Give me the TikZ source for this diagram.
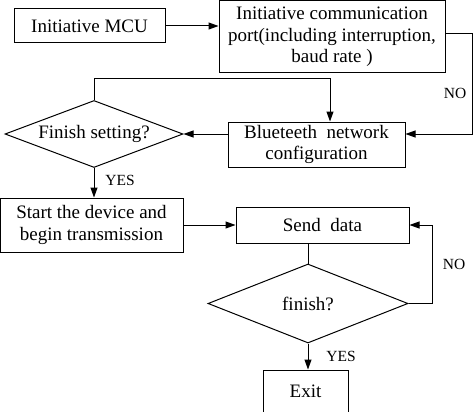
\documentclass[tikz,border=0pt]{standalone}
\usepackage{fontspec}
\setmainfont{Liberation Serif}
\usetikzlibrary{positioning,arrows.meta,shapes.geometric}

\begin{document}
\begin{tikzpicture}[x=1pt, y=-1pt, line width=1pt,
    font=\fontsize{19}{21.5}\selectfont,
    caja/.style={draw, rectangle, align=center, inner sep=0pt},
    rombo/.style={draw, diamond, aspect=2.6, inner sep=0pt, align=center},
    flecha/.style={-{Triangle[length=10pt, width=7pt]}},
    etiq/.style={font=\fontsize{15.5}{17}\selectfont}]
  \useasboundingbox (0,0) rectangle (474,412);
  % arriba: MCU y puerto
  \node[caja, minimum width=151pt, minimum height=34pt] (mcu) at (89.5,26) {Initiative MCU};
  \node[caja, minimum width=226pt, minimum height=72pt] (port) at (332,37)
    {Initiative communication\\port(including interruption,\\baud rate )};
  % configuracion bluetooth
  \node[caja, minimum width=177pt, minimum height=45pt] (bt) at (316.5,144.5)
    {Blueteeth\ \ network\\configuration};
  \node[rombo, minimum width=178pt, minimum height=67pt] (fset) at (94,134) {Finish setting?};
  % transmision
  \node[caja, minimum width=183pt, minimum height=54pt] (start) at (91.5,225)
    {Start the device and\\begin transmission};
  \node[caja, minimum width=173pt, minimum height=36pt] (send) at (322.5,225) {Send\ \ data};
  \node[rombo, minimum width=200pt, minimum height=79pt] (fin) at (308,303.5) {finish?};
  \node[caja, minimum width=85pt, minimum height=42pt] (exit) at (305.5,391) {Exit};
  % flechas
  \draw[flecha] (mcu.east) -- (mcu.east -| port.west);
  \draw[flecha] ([yshift=3pt]port.east) -- ++(27,0) |- (bt.east |- fset.east);
  \node[etiq] (no1) at (455,93) {NO};
  \draw[flecha] (bt.west |- fset.east) -- (fset.east);
  \draw[flecha] (fset.north) -- ++(0,-21) -| ([xshift=13.5pt]bt.north);
  \draw[flecha] (fset.south) -- (fset.south |- start.north);
  \node[etiq] (yes1) at (120,180) {YES};
  \draw[flecha] (start.east) -- (send.west);
  \draw (send.south -| fin.north) -- (fin.north);
  \draw[flecha] (fin.east) -- ++(24,0) |- (send.east);
  \node[etiq] (no2) at (454,264) {NO};
  \draw[flecha] (fin.south) -- (fin.south |- exit.north);
  \node[etiq] (yes2) at (341,356) {YES};
\end{tikzpicture}
\end{document}
